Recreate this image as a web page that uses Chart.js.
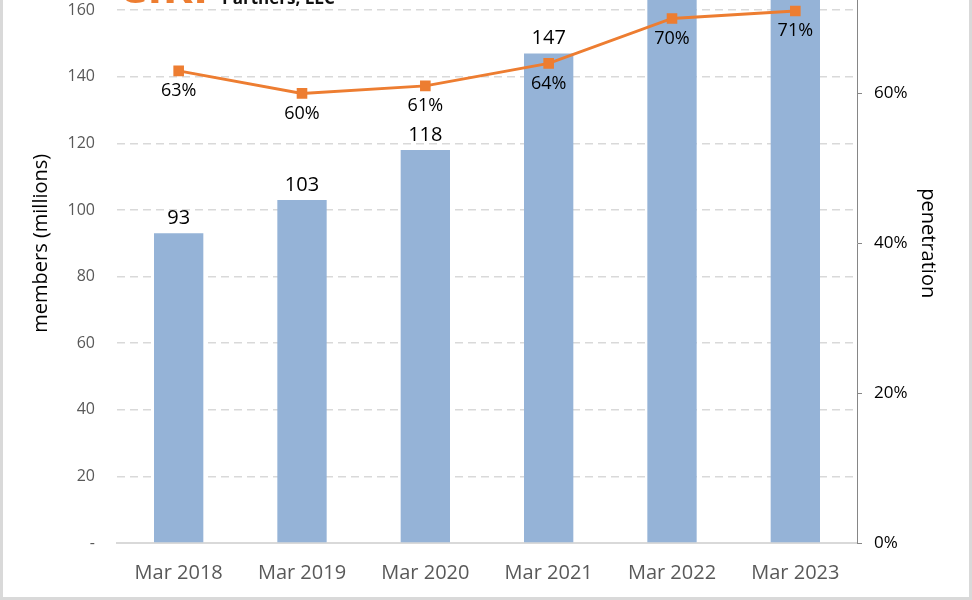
<!DOCTYPE html>
<html>
<head>
<meta charset="utf-8">
<script src="https://cdn.jsdelivr.net/npm/chart.js@4"></script>
<style>
  html, body { margin: 0; padding: 0; background: #fff; }
  body { width: 972px; height: 600px; overflow: hidden; position: relative; }
  #wrap { position: absolute; left: 0; top: -64px; width: 972px; height: 664px; }
  #frame { position: absolute; left: 0; top: 0; width: 966px; height: 597px;
           border-left: 3px solid #d9d9d9; border-right: 3px solid #d9d9d9; border-bottom: 3px solid #d9d9d9;
           pointer-events: none; }
</style>
</head>
<body>
<div id="wrap"><canvas id="grafico"></canvas></div>
<div id="frame"></div>
<script>
const categorias = ['Mar 2018', 'Mar 2019', 'Mar 2020', 'Mar 2021', 'Mar 2022', 'Mar 2023'];
const membros = [93, 103, 118, 147, 168, 167];       // millions
const penetracao = [0.63, 0.60, 0.61, 0.64, 0.70, 0.71];
const ticksMembros = [0, 20, 40, 60, 80, 100, 120, 140, 160, 180];
const ticksPenetracao = [0, 0.2, 0.4, 0.6, 0.8];

const fonte = "'Open Sans', 'Noto Sans', sans-serif";

// rótulos de dados + logo (sem plugin externo)
const rotulos = {
    id: 'rotulos',
    afterDatasetsDraw(chart) {
        const ctx = chart.ctx;
        ctx.save();
        ctx.fillStyle = '#000';
        ctx.textAlign = 'center';

        ctx.font = '20px ' + fonte;
        ctx.textBaseline = 'alphabetic';
        chart.getDatasetMeta(1).data.forEach((bar, i) => {
            ctx.fillText(String(membros[i]), bar.x, bar.y - 9);
        });

        ctx.font = '18px ' + fonte;
        ctx.textBaseline = 'middle';
        chart.getDatasetMeta(0).data.forEach((pt, i) => {
            ctx.fillText(Math.round(penetracao[i] * 100) + '%', pt.x, pt.y + 20);
        });

        // logo cortado no topo
        ctx.textAlign = 'left';
        ctx.textBaseline = 'alphabetic';
        ctx.fillStyle = '#ED7D31';
        ctx.font = 'bold 46px ' + fonte;
        ctx.fillText('CIRP', 118, 67);
        ctx.fillStyle = '#111';
        ctx.font = 'bold 17px ' + fonte;
        ctx.fillText('Partners, LLC', 222, 68);
        ctx.restore();
    }
};

const ctx = document.getElementById('grafico').getContext('2d');
new Chart(ctx, {
    data: {
        labels: categorias,
        datasets: [{
            type: 'line',
            label: 'penetration',
            data: penetracao,
            yAxisID: 'y1',
            borderColor: '#ED7D31',
            backgroundColor: '#ED7D31',
            borderWidth: 3,
            pointStyle: 'rect',
            pointRadius: 7.5,
            pointBorderWidth: 0,
            tension: 0,
            order: 0
        }, {
            type: 'bar',
            label: 'members (millions)',
            data: membros,
            yAxisID: 'y',
            backgroundColor: '#95B3D7',
            categoryPercentage: 1,
            barPercentage: 0.4,
            order: 1
        }]
    },
    options: {
        responsive: true,
        maintainAspectRatio: false,
        animation: false,
        layout: { padding: 0 },
        plugins: {
            legend: { display: false },
            tooltip: { enabled: false }
        },
        scales: {
            x: {
                offset: true,
                grid: { display: false, drawTicks: false },
                border: { display: true, color: '#d9d9d9', width: 2 },
                ticks: { color: '#595959', font: { family: fonte, size: 20 }, padding: 18, maxRotation: 0 },
                afterFit(s) { s.height = 57; s.paddingLeft = 0; s.paddingRight = 0; }
            },
            y: {
                position: 'left',
                min: 0,
                max: 180,
                afterBuildTicks(s) { s.ticks = ticksMembros.map(v => ({ value: v })); },
                grid: { color: '#d9d9d9', lineWidth: 1.5, drawTicks: false },
                border: { display: false, dash: [8, 5] },
                ticks: {
                    color: '#595959',
                    font: { family: fonte, size: 16 },
                    padding: 22,
                    callback: v => v === 0 ? '-' : v
                },
                title: {
                    display: true,
                    text: 'members (millions)',
                    color: '#000',
                    font: { family: fonte, size: 20 },
                    padding: { top: 29, bottom: 0 }
                },
                afterFit(s) { s.width = 117; s.paddingTop = 0; s.paddingBottom = 0; }
            },
            y1: {
                position: 'right',
                min: 0,
                max: 0.8,
                afterBuildTicks(s) { s.ticks = ticksPenetracao.map(v => ({ value: v })); },
                grid: { drawOnChartArea: false, drawTicks: true, tickLength: 5, color: '#868686' },
                border: { display: true, color: '#868686', width: 1 },
                ticks: {
                    color: '#000',
                    font: { family: fonte, size: 17 },
                    padding: 12,
                    callback: v => Math.round(v * 100) + '%'
                },
                title: {
                    display: true,
                    text: 'penetration',
                    color: '#000',
                    font: { family: fonte, size: 20 },
                    padding: { top: 32, bottom: 0 }
                },
                afterFit(s) { s.width = 115; s.paddingTop = 0; s.paddingBottom = 0; }
            }
        }
    },
    plugins: [rotulos]
});
</script>
</body>
</html>
